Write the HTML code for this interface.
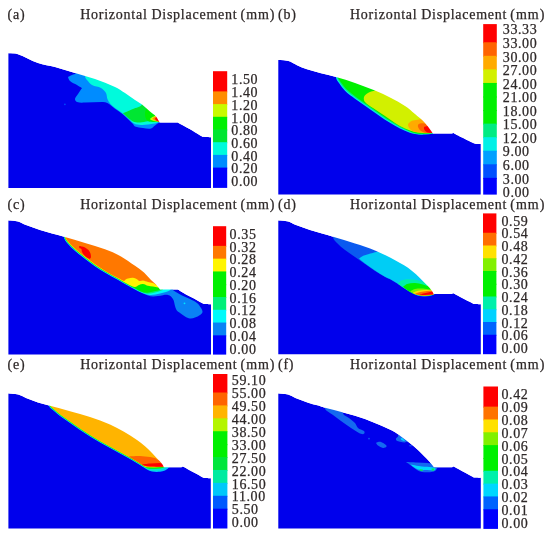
<!DOCTYPE html>
<html><head><meta charset="utf-8"><title>Horizontal Displacement</title>
<style>
html,body{margin:0;padding:0;background:#fff;}
svg{display:block;}
text{font-family:"Liberation Serif","DejaVu Serif",serif;fill:#2e2828;stroke:#2e2828;stroke-width:0.25px;}
.tt{font-size:14px;letter-spacing:0.75px;}
.lb{font-size:14px;letter-spacing:0.6px;}
</style></head><body>
<svg width="550" height="537" viewBox="0 0 550 537">
<rect width="550" height="537" fill="#fff"/>

<path d="M8.4,53.2 C8.4,53.2 14.5,53.1 17.3,54.0 C24.4,56.4 30.9,60.5 38.0,63.0 C43.5,64.9 49.4,65.5 55.0,67.0 C61.7,68.8 68.3,71.0 75.0,73.0 C81.7,75.0 88.4,76.7 95.0,79.0 C101.8,81.4 108.5,84.0 115.0,87.0 C118.5,88.6 121.7,90.9 125.0,93.0 C128.4,95.2 131.6,97.7 135.0,100.0 C137.3,101.6 139.8,102.8 142.0,104.5 C144.8,106.7 147.3,109.2 150.0,111.5 C152.0,113.2 154.3,114.5 156.0,116.5 C157.5,118.3 159.6,122.5 159.6,122.5 C159.6,122.5 177.8,122.5 177.8,122.5 C177.8,122.5 185.1,126.5 188.7,128.6 C193.2,131.2 202.2,136.7 202.2,136.7 C202.2,136.7 211.0,137.2 211.0,137.2 C211.0,137.2 211.0,187.9 211.0,187.9 C211.0,187.9 8.4,187.9 8.4,187.9 C8.4,187.9 8.4,53.2 8.4,53.2Z" fill="#0000ec"/>
<path d="M68.0,77.0 C68.0,77.0 70.7,75.7 72.0,75.0 C73.3,74.3 75.6,74.4 76.0,73.0 C77.1,68.8 76.0,60.0 76.0,60.0 C76.0,60.0 165.0,60.0 165.0,60.0 C165.0,60.0 165.0,121.0 165.0,121.0 C165.0,121.0 161.2,121.8 159.5,122.6 C157.9,123.3 156.5,124.5 155.0,125.5 C153.6,126.5 152.6,128.2 151.0,128.5 C148.4,129.0 145.7,128.3 143.0,128.0 C140.3,127.7 137.5,127.5 135.0,126.5 C134.0,126.1 133.8,124.8 133.0,124.0 C129.7,120.7 126.5,117.5 123.0,114.5 C120.5,112.4 117.6,110.7 115.0,108.8 C112.4,106.9 110.2,104.6 107.4,103.0 C106.1,102.3 104.5,102.0 103.0,102.0 C97.0,101.9 91.0,102.6 85.0,102.6 C82.3,102.6 79.5,102.9 77.0,102.0 C75.9,101.6 74.9,100.2 75.0,99.0 C75.2,97.1 77.0,95.6 78.0,94.0 C79.3,92.0 82.0,88.0 82.0,88.0 C82.0,88.0 78.7,86.0 77.0,85.0 C74.7,83.6 72.0,82.8 70.0,81.0 C68.9,80.0 68.0,77.0 68.0,77.0Z" fill="#008cff"/>
<path d="M85.0,76.2 C84.5,70.8 85.0,60.0 85.0,60.0 C85.0,60.0 160.0,60.0 160.0,60.0 C160.0,60.0 160.0,122.0 160.0,122.0 C160.0,122.0 159.3,121.9 159.0,122.0 C157.6,122.4 156.4,123.2 155.0,123.5 C152.7,124.0 150.3,124.2 148.0,124.5 C145.7,124.7 143.3,125.2 141.0,125.0 C138.6,124.8 136.2,124.5 134.0,123.5 C132.4,122.8 131.3,121.2 130.0,120.0 C127.7,117.9 125.4,115.7 123.0,113.8 C120.4,111.7 117.6,110.0 115.0,108.0 C113.2,106.6 111.4,105.2 110.0,103.5 C108.9,102.2 108.0,100.6 107.4,99.0 C106.7,97.1 107.0,94.8 106.0,93.0 C104.8,91.0 103.0,89.2 101.0,88.0 C98.3,86.4 94.7,86.6 92.0,85.0 C90.0,83.8 88.5,81.8 87.0,80.0 C86.1,78.9 85.1,77.6 85.0,76.2Z" fill="#00fadc"/>
<path d="M123.0,113.2 C123.0,113.2 129.7,110.5 133.0,109.0 C136.0,107.6 140.2,107.3 142.0,104.5 C143.7,101.8 142.0,95.0 142.0,95.0 C142.0,95.0 160.0,95.0 160.0,95.0 C160.0,95.0 160.0,122.0 160.0,122.0 C160.0,122.0 159.3,121.8 159.0,121.8 C155.3,121.6 151.7,121.1 148.0,121.2 C145.3,121.3 142.7,122.4 140.0,122.5 C137.6,122.5 135.1,122.6 133.0,121.5 C129.2,119.4 123.0,113.2 123.0,113.2Z" fill="#00e632"/>
<path d="M146.0,108.0 C145.8,110.4 144.6,112.7 145.0,115.0 C145.3,117.2 146.0,120.0 148.0,121.0 C151.3,122.6 155.3,121.5 159.0,121.8 C159.3,121.8 160.0,122.0 160.0,122.0 C160.0,122.0 160.0,100.0 160.0,100.0 C160.0,100.0 146.0,100.0 146.0,100.0 C146.0,100.0 146.2,105.3 146.0,108.0Z" fill="#00f000"/>
<path d="M150.0,118.8 C150.0,118.8 151.3,117.6 152.0,117.2 C152.9,116.7 155.0,116.0 155.0,116.0 C155.0,116.0 155.0,110.0 155.0,110.0 C155.0,110.0 160.0,110.0 160.0,110.0 C160.0,110.0 160.0,122.0 160.0,122.0 C160.0,122.0 159.7,121.8 159.5,121.8 C157.7,121.5 155.8,121.4 154.0,121.0 C153.0,120.8 151.9,120.5 151.0,120.0 C150.5,119.7 150.0,118.8 150.0,118.8Z" fill="#c8fa00"/>
<path d="M152.5,118.8 C152.5,118.8 153.8,117.5 154.5,117.0 C154.9,116.7 156.0,116.5 156.0,116.5 C156.0,116.5 156.0,112.0 156.0,112.0 C156.0,112.0 160.0,112.0 160.0,112.0 C160.0,112.0 160.0,122.0 160.0,122.0 C160.0,122.0 159.6,121.7 159.3,121.6 C157.9,121.2 156.4,121.1 155.0,120.5 C154.1,120.1 152.5,118.8 152.5,118.8Z" fill="#ff8c00"/>
<path d="M155.0,118.5 C155.0,118.5 155.9,117.4 156.3,116.9 C156.5,116.6 156.6,116.1 157.0,116.0 C158.0,115.8 160.0,116.0 160.0,116.0 C160.0,116.0 160.0,122.0 160.0,122.0 C160.0,122.0 159.7,121.9 159.5,121.8 C158.3,121.3 157.0,121.1 156.0,120.3 C155.4,119.9 155.0,118.5 155.0,118.5Z" fill="#ff0000"/>
<circle cx="64.9" cy="104.4" r="0.8" fill="#0050ff"/>
<path d="M8.4,53.2 C8.4,53.2 14.5,53.1 17.3,54.0 C24.4,56.4 30.9,60.5 38.0,63.0 C43.5,64.9 49.4,65.5 55.0,67.0 C61.7,68.8 68.3,71.0 75.0,73.0 C81.7,75.0 88.4,76.7 95.0,79.0 C101.8,81.4 108.5,84.0 115.0,87.0 C118.5,88.6 121.7,90.9 125.0,93.0 C128.4,95.2 131.6,97.7 135.0,100.0 C137.3,101.6 139.8,102.8 142.0,104.5 C144.8,106.7 147.3,109.2 150.0,111.5 C152.0,113.2 154.3,114.5 156.0,116.5 C157.5,118.3 159.6,122.5 159.6,122.5 C159.6,122.5 177.8,122.5 177.8,122.5 C177.8,122.5 185.1,126.5 188.7,128.6 C193.2,131.2 202.2,136.7 202.2,136.7 C202.2,136.7 211.0,137.2 211.0,137.2 C211.0,137.2 211.0,47.2 211.0,47.2 C211.0,47.2 8.4,47.2 8.4,47.2 C8.4,47.2 8.4,53.2 8.4,53.2Z" fill="#fff"/>
<rect x="213.0" y="71.20" width="14.2" height="21.20" fill="#ff0000"/>
<rect x="213.0" y="91.40" width="14.2" height="13.70" fill="#ff8c00"/>
<rect x="213.0" y="104.10" width="14.2" height="13.70" fill="#c8fa00"/>
<rect x="213.0" y="116.80" width="14.2" height="13.70" fill="#00f000"/>
<rect x="213.0" y="129.50" width="14.2" height="13.70" fill="#00e632"/>
<rect x="213.0" y="142.20" width="14.2" height="13.70" fill="#00fadc"/>
<rect x="213.0" y="154.90" width="14.2" height="13.70" fill="#008cff"/>
<rect x="213.0" y="167.60" width="14.2" height="20.30" fill="#0000fe"/>
<text class="lb" x="231.3" y="84.40">1.50</text>
<text class="lb" x="231.3" y="97.10">1.40</text>
<text class="lb" x="231.3" y="109.80">1.20</text>
<text class="lb" x="231.3" y="122.50">1.00</text>
<text class="lb" x="231.3" y="135.20">0.80</text>
<text class="lb" x="231.3" y="147.90">0.60</text>
<text class="lb" x="231.3" y="160.60">0.40</text>
<text class="lb" x="231.3" y="173.30">0.20</text>
<text class="lb" x="231.3" y="186.00">0.00</text>
<path d="M278.3,59.9 C278.3,59.9 285.2,60.1 288.5,61.0 C291.5,61.9 294.1,63.9 297.0,65.2 C300.3,66.7 303.6,68.1 307.0,69.2 C311.6,70.7 316.3,71.9 321.0,73.2 C326.0,74.5 331.0,75.6 336.0,77.0 C342.4,78.8 348.7,80.8 355.0,83.0 C361.7,85.3 368.4,87.9 375.0,90.6 C380.4,92.9 385.8,95.3 391.0,98.0 C395.8,100.5 400.5,103.0 405.0,106.0 C408.6,108.4 411.7,111.2 415.0,114.0 C418.4,116.9 422.0,119.7 425.0,123.0 C428.0,126.3 433.0,133.6 433.0,133.6 C433.0,133.6 451.8,133.6 451.8,133.6 C451.8,133.6 453.3,132.9 453.3,132.9 C453.3,132.9 467.8,140.6 475.4,143.7 C477.0,144.4 480.7,143.9 480.7,143.9 C480.7,143.9 480.7,194.6 480.7,194.6 C480.7,194.6 278.3,194.6 278.3,194.6 C278.3,194.6 278.3,59.9 278.3,59.9Z" fill="#0000ec"/>
<path d="M336.0,77.4 C336.3,79.5 337.8,81.2 339.0,83.0 C340.8,85.7 342.7,88.4 345.0,90.7 C348.0,93.7 351.6,96.1 355.0,98.7 C358.3,101.1 361.7,103.4 365.0,105.7 C368.3,108.0 371.7,110.4 375.0,112.7 C378.3,115.0 381.6,117.5 385.0,119.7 C388.3,121.8 391.6,123.8 395.0,125.7 C398.3,127.5 401.6,129.3 405.0,130.7 C408.2,132.1 411.5,133.4 415.0,134.1 C418.3,134.7 421.7,134.7 425.0,134.6 C427.7,134.5 430.4,134.0 433.0,133.4 C435.4,132.8 440.0,131.0 440.0,131.0 C440.0,131.0 440.0,60.0 440.0,60.0 C440.0,60.0 336.0,60.0 336.0,60.0 C336.0,60.0 335.2,71.6 336.0,77.4Z" fill="#00f0e6"/>
<path d="M337.0,77.4 C337.4,79.4 338.8,81.1 340.0,82.8 C341.8,85.4 343.7,88.1 346.0,90.3 C349.1,93.3 352.6,95.7 356.0,98.3 C359.3,100.7 362.7,103.0 366.0,105.3 C369.3,107.6 372.7,110.0 376.0,112.3 C379.3,114.6 382.6,117.1 386.0,119.3 C389.3,121.4 392.6,123.4 396.0,125.3 C399.3,127.1 402.6,128.9 406.0,130.3 C409.2,131.7 412.5,133.0 416.0,133.7 C418.9,134.3 422.0,134.2 425.0,134.1 C427.7,134.0 430.4,133.7 433.0,133.2 C435.4,132.7 440.0,131.0 440.0,131.0 C440.0,131.0 440.0,60.0 440.0,60.0 C440.0,60.0 336.0,60.0 336.0,60.0 C336.0,60.0 336.0,71.7 337.0,77.4Z" fill="#00eb82"/>
<path d="M338.0,77.6 C338.4,79.5 339.9,81.0 341.0,82.5 C342.9,85.0 344.7,87.5 347.0,89.7 C350.1,92.6 353.6,95.1 357.0,97.7 C360.3,100.1 363.7,102.4 367.0,104.7 C370.3,107.0 373.7,109.4 377.0,111.7 C380.3,114.0 383.6,116.5 387.0,118.7 C390.3,120.8 393.6,122.8 397.0,124.7 C400.3,126.5 403.6,128.4 407.0,129.9 C409.9,131.2 412.9,132.5 416.0,133.2 C418.9,133.8 422.0,133.7 425.0,133.7 C427.7,133.7 430.4,133.6 433.0,133.1 C435.4,132.7 440.0,131.0 440.0,131.0 C440.0,131.0 440.0,60.0 440.0,60.0 C440.0,60.0 336.0,60.0 336.0,60.0 C336.0,60.0 336.7,71.8 338.0,77.6Z" fill="#00f000"/>
<path d="M375.0,90.6 C375.0,90.6 370.1,91.8 368.0,93.0 C366.4,93.9 364.6,95.2 364.0,97.0 C363.5,98.6 363.9,100.7 365.0,102.0 C367.1,104.6 370.3,106.1 373.0,108.0 C376.9,110.8 381.0,113.3 385.0,116.0 C388.4,118.3 391.6,120.8 395.0,123.0 C398.2,125.0 401.5,127.0 405.0,128.6 C408.2,130.0 411.6,131.2 415.0,132.0 C418.3,132.8 421.6,133.0 425.0,133.2 C427.7,133.3 430.4,133.4 433.0,133.0 C435.4,132.6 440.0,131.0 440.0,131.0 C440.0,131.0 440.0,60.0 440.0,60.0 C440.0,60.0 375.0,60.0 375.0,60.0 C375.0,60.0 375.0,90.6 375.0,90.6Z" fill="#d2f000"/>
<path d="M408.0,125.0 C407.9,123.8 409.1,122.8 410.0,122.0 C410.8,121.3 411.9,120.9 413.0,120.6 C415.0,120.0 417.0,119.5 419.0,119.4 C426.0,119.0 440.0,119.0 440.0,119.0 C440.0,119.0 440.0,133.0 440.0,133.0 C440.0,133.0 434.7,133.0 432.0,133.0 C429.7,133.0 427.3,133.2 425.0,133.0 C421.7,132.8 418.3,132.5 415.0,131.8 C413.6,131.5 412.0,131.0 411.0,130.0 C409.6,128.6 408.2,126.9 408.0,125.0Z" fill="#ffaa00"/>
<path d="M418.0,125.0 C418.3,124.2 419.2,123.9 420.0,123.6 C420.9,123.3 422.0,123.2 423.0,123.2 C424.0,123.2 425.0,123.8 426.0,123.8 C430.7,123.7 440.0,123.0 440.0,123.0 C440.0,123.0 440.0,133.0 440.0,133.0 C440.0,133.0 434.7,133.0 432.0,133.0 C429.7,133.0 427.3,133.2 425.0,132.8 C423.6,132.5 422.2,131.9 421.0,131.0 C420.0,130.2 419.1,129.2 418.5,128.0 C418.0,127.1 417.7,126.0 418.0,125.0Z" fill="#ff6400"/>
<path d="M424.0,127.5 C424.2,126.9 424.9,126.7 425.5,126.5 C426.1,126.2 426.8,126.0 427.5,126.0 C431.7,125.9 440.0,126.0 440.0,126.0 C440.0,126.0 440.0,133.0 440.0,133.0 C440.0,133.0 434.7,133.2 432.0,133.0 C430.3,132.9 428.6,132.8 427.0,132.2 C426.0,131.8 425.1,130.9 424.5,130.0 C424.0,129.3 423.8,128.3 424.0,127.5Z" fill="#ff0000"/>

<path d="M278.3,59.9 C278.3,59.9 285.2,60.1 288.5,61.0 C291.5,61.9 294.1,63.9 297.0,65.2 C300.3,66.7 303.6,68.1 307.0,69.2 C311.6,70.7 316.3,71.9 321.0,73.2 C326.0,74.5 331.0,75.6 336.0,77.0 C342.4,78.8 348.7,80.8 355.0,83.0 C361.7,85.3 368.4,87.9 375.0,90.6 C380.4,92.9 385.8,95.3 391.0,98.0 C395.8,100.5 400.5,103.0 405.0,106.0 C408.6,108.4 411.7,111.2 415.0,114.0 C418.4,116.9 422.0,119.7 425.0,123.0 C428.0,126.3 433.0,133.6 433.0,133.6 C433.0,133.6 451.8,133.6 451.8,133.6 C451.8,133.6 453.3,132.9 453.3,132.9 C453.3,132.9 467.8,140.6 475.4,143.7 C477.0,144.4 480.7,143.9 480.7,143.9 C480.7,143.9 480.7,53.9 480.7,53.9 C480.7,53.9 278.3,53.9 278.3,53.9 C278.3,53.9 278.3,59.9 278.3,59.9Z" fill="#fff"/>
<rect x="483.2" y="24.10" width="13.6" height="19.16" fill="#ff0000"/>
<rect x="483.2" y="42.26" width="13.6" height="14.56" fill="#ff6400"/>
<rect x="483.2" y="55.82" width="13.6" height="14.56" fill="#ffaa00"/>
<rect x="483.2" y="69.38" width="13.6" height="14.56" fill="#d2f000"/>
<rect x="483.2" y="82.94" width="13.6" height="14.56" fill="#00f000"/>
<rect x="483.2" y="96.50" width="13.6" height="14.56" fill="#00f000"/>
<rect x="483.2" y="110.06" width="13.6" height="14.56" fill="#00f000"/>
<rect x="483.2" y="123.62" width="13.6" height="14.56" fill="#00eb82"/>
<rect x="483.2" y="137.18" width="13.6" height="14.56" fill="#00f0e6"/>
<rect x="483.2" y="150.74" width="13.6" height="14.56" fill="#00a0ff"/>
<rect x="483.2" y="164.30" width="13.6" height="14.56" fill="#0050ff"/>
<rect x="483.2" y="177.86" width="13.6" height="16.74" fill="#0000fe"/>
<text class="lb" x="502.8" y="34.40">33.33</text>
<text class="lb" x="502.8" y="47.96">33.00</text>
<text class="lb" x="502.8" y="61.52">30.00</text>
<text class="lb" x="502.8" y="75.08">27.00</text>
<text class="lb" x="502.8" y="88.64">24.00</text>
<text class="lb" x="502.8" y="102.20">21.00</text>
<text class="lb" x="502.8" y="115.76">18.00</text>
<text class="lb" x="502.8" y="129.32">15.00</text>
<text class="lb" x="502.8" y="142.88">12.00</text>
<text class="lb" x="502.8" y="156.44">9.00</text>
<text class="lb" x="502.8" y="170.00">6.00</text>
<text class="lb" x="502.8" y="183.56">3.00</text>
<text class="lb" x="502.8" y="197.12">0.00</text>
<path d="M8.4,220.4 C8.4,220.4 14.9,220.6 18.0,221.4 C20.8,222.1 23.3,223.9 26.0,225.0 C30.6,226.8 35.3,228.4 40.0,230.0 C44.0,231.3 48.0,232.5 52.0,233.6 C56.0,234.7 60.0,235.7 64.0,236.8 C71.0,238.8 78.0,240.9 85.0,243.0 C91.7,245.0 98.4,246.9 105.0,249.3 C110.5,251.3 115.9,253.6 121.0,256.4 C125.9,259.1 130.4,262.6 135.0,265.8 C138.1,268.0 141.2,270.1 144.0,272.6 C146.5,274.9 148.6,277.6 151.0,280.0 C152.6,281.6 154.5,282.9 156.0,284.5 C157.5,286.0 160.0,289.5 160.0,289.5 C160.0,289.5 178.0,289.5 178.0,289.5 C178.0,289.5 183.3,293.0 186.0,294.5 C188.6,296.0 191.4,297.1 194.0,298.5 C196.0,299.6 198.0,300.9 200.0,302.0 C201.3,302.7 204.0,304.0 204.0,304.0 C204.0,304.0 211.0,304.2 211.0,304.2 C211.0,304.2 211.0,354.6 211.0,354.6 C211.0,354.6 8.4,354.6 8.4,354.6 C8.4,354.6 8.4,220.4 8.4,220.4Z" fill="#0000ec"/>
<path d="M64.0,237.6 C64.3,239.6 65.7,241.4 67.0,243.0 C69.4,245.9 72.2,248.5 75.0,251.0 C78.2,253.8 81.6,256.4 85.0,259.0 C88.3,261.6 91.6,264.1 95.0,266.5 C98.2,268.7 101.6,270.8 105.0,272.8 C109.3,275.3 113.7,277.6 118.0,280.0 C121.4,281.9 124.6,283.9 128.0,285.8 C131.3,287.7 134.6,289.6 138.0,291.3 C141.3,292.9 144.6,294.3 148.0,295.5 C149.6,296.1 151.3,296.4 153.0,296.5 C154.7,296.6 156.3,296.2 158.0,296.0 C159.7,295.8 161.3,295.4 163.0,295.2 C164.7,295.0 166.4,294.7 168.0,295.0 C169.1,295.2 170.2,295.7 171.0,296.5 C172.1,297.5 172.9,298.7 173.5,300.0 C174.3,301.9 174.4,304.0 175.0,306.0 C175.4,307.4 175.7,308.8 176.5,310.0 C177.4,311.3 178.8,312.1 180.0,313.0 C181.6,314.2 183.2,315.5 185.0,316.5 C186.6,317.4 188.2,318.3 190.0,318.5 C191.7,318.7 193.4,318.1 195.0,317.5 C196.8,316.9 198.5,316.1 200.0,315.0 C201.0,314.2 202.3,313.3 202.5,312.0 C202.7,310.6 201.7,309.2 201.0,308.0 C199.9,306.2 198.7,304.4 197.0,303.0 C194.9,301.3 192.4,300.2 190.0,299.0 C187.4,297.7 184.6,296.8 182.0,295.5 C179.6,294.3 177.2,293.0 175.0,291.5 C174.2,291.0 173.0,290.4 173.0,289.5 C172.4,268.0 173.0,225.0 173.0,225.0 C173.0,225.0 64.0,225.0 64.0,225.0 C64.0,225.0 63.3,233.5 64.0,237.6Z" fill="#0a82f5"/>
<path d="M64.2,237.3 C64.6,239.4 65.9,241.1 67.2,242.7 C69.6,245.6 72.4,248.2 75.2,250.7 C78.4,253.6 81.8,256.1 85.2,258.7 C88.5,261.3 91.8,263.9 95.2,266.2 C98.5,268.5 101.8,270.5 105.2,272.5 C109.5,275.0 113.9,277.3 118.2,279.7 C121.6,281.6 124.9,283.6 128.2,285.5 C131.6,287.4 134.9,289.3 138.3,291.0 C140.8,292.2 143.3,293.4 146.0,294.2 C147.6,294.7 149.3,295.1 151.0,295.0 C154.0,294.8 157.0,294.1 160.0,293.5 C162.0,293.1 164.0,292.6 166.0,292.0 C167.4,291.5 168.7,290.9 170.0,290.2 C170.3,290.0 170.5,289.7 170.5,289.4 C170.7,267.9 170.5,225.0 170.5,225.0 C170.5,225.0 64.2,225.0 64.2,225.0 C64.2,225.0 63.5,233.3 64.2,237.3Z" fill="#00fafa"/>
<path d="M64.4,237.1 C64.8,239.1 66.1,240.9 67.4,242.5 C69.8,245.4 72.6,247.9 75.4,250.5 C78.6,253.3 82.1,255.8 85.4,258.5 C88.7,261.0 92.0,263.6 95.4,266.0 C98.7,268.2 102.0,270.3 105.4,272.3 C109.7,274.8 114.1,277.0 118.4,279.5 C121.8,281.4 125.1,283.4 128.4,285.3 C131.8,287.1 135.1,289.1 138.6,290.7 C141.3,291.9 144.1,293.1 147.0,293.7 C148.6,294.0 150.4,293.6 152.0,293.3 C154.0,292.9 156.0,292.4 158.0,291.8 C159.4,291.4 160.7,290.9 162.0,290.3 C162.4,290.1 163.0,289.8 163.0,289.4 C163.3,267.9 163.0,225.0 163.0,225.0 C163.0,225.0 64.5,225.0 64.5,225.0 C64.5,225.0 63.8,233.1 64.4,237.1Z" fill="#00f078"/>
<path d="M64.6,236.8 C65.0,238.9 66.3,240.6 67.6,242.2 C70.0,245.1 72.8,247.7 75.6,250.2 C78.8,253.1 82.2,255.6 85.6,258.2 C88.9,260.8 92.2,263.4 95.6,265.7 C98.9,268.0 102.2,270.0 105.6,272.0 C109.9,274.5 114.3,276.8 118.6,279.2 C122.0,281.1 125.2,283.2 128.6,285.0 C130.7,286.2 132.9,287.2 135.0,288.3 C137.0,289.3 138.9,290.6 141.0,291.4 C142.9,292.1 144.9,292.7 147.0,292.8 C148.4,292.9 149.7,292.3 151.0,292.0 C153.3,291.5 155.7,291.2 158.0,290.6 C158.7,290.4 160.0,290.3 160.0,289.6 C160.7,268.1 160.0,225.0 160.0,225.0 C160.0,225.0 64.7,225.0 64.7,225.0 C64.7,225.0 64.0,232.9 64.6,236.8Z" fill="#00f000"/>
<path d="M64.9,236.5 C65.2,238.5 66.6,240.3 67.9,241.9 C70.3,244.8 73.0,247.4 75.9,249.9 C79.1,252.7 82.5,255.3 85.9,257.9 C89.2,260.5 92.4,263.0 95.9,265.4 C99.1,267.6 102.5,269.7 105.9,271.7 C110.1,274.2 114.6,276.5 118.9,278.9 C122.2,280.8 125.5,282.8 128.9,284.7 C129.4,285.0 129.9,285.4 130.5,285.6 C132.0,286.2 133.4,287.1 135.0,287.0 C136.5,286.9 137.6,285.5 139.0,285.0 C140.3,284.5 141.6,283.9 143.0,284.0 C144.8,284.2 146.3,285.4 148.0,285.8 C149.6,286.2 151.3,286.2 153.0,286.5 C154.7,286.8 156.3,287.1 158.0,287.5 C158.7,287.6 160.0,288.0 160.0,288.0 C160.0,288.0 160.0,225.0 160.0,225.0 C160.0,225.0 65.0,225.0 65.0,225.0 C65.0,225.0 64.2,232.7 64.9,236.5Z" fill="#fff500"/>
<path d="M65.1,236.2 C65.5,238.2 66.8,240.0 68.1,241.6 C70.5,244.5 73.3,247.1 76.1,249.6 C79.3,252.4 82.7,255.0 86.1,257.6 C89.4,260.1 92.7,262.7 96.1,265.1 C99.4,267.3 102.7,269.4 106.1,271.4 C110.4,273.9 114.8,276.2 119.1,278.6 C120.7,279.5 124.0,281.2 124.0,281.2 C124.0,281.2 125.2,279.7 126.0,279.2 C126.6,278.8 127.3,278.5 128.0,278.4 C129.6,278.1 131.3,277.7 133.0,277.8 C134.4,277.9 135.7,278.6 137.0,279.2 C137.9,279.7 138.5,280.8 139.5,281.0 C140.7,281.2 141.8,280.4 143.0,280.5 C144.7,280.7 146.3,281.6 148.0,282.0 C149.6,282.4 151.4,282.4 153.0,283.0 C154.3,283.4 155.3,284.5 156.5,285.0 C157.6,285.5 160.0,286.0 160.0,286.0 C160.0,286.0 160.0,225.0 160.0,225.0 C160.0,225.0 65.3,225.0 65.3,225.0 C65.3,225.0 64.5,232.5 65.1,236.2Z" fill="#ff7800"/>
<path d="M79.0,246.8 C79.0,246.8 79.6,246.1 80.0,246.1 C80.5,246.0 81.0,246.4 81.5,246.5 C82.0,246.6 82.5,246.6 83.0,246.7 C83.7,246.9 84.4,247.0 85.0,247.4 C86.2,248.1 87.5,248.9 88.5,250.0 C89.4,251.0 90.1,252.2 90.5,253.5 C90.9,254.8 91.1,256.2 90.9,257.5 C90.8,258.1 89.6,258.9 89.6,258.9 C89.6,258.9 86.3,257.2 85.0,256.0 C83.8,254.9 82.8,253.5 82.0,252.0 C81.5,251.1 81.9,249.9 81.4,249.0 C81.0,248.4 80.1,248.6 79.6,248.2 C79.2,247.9 79.0,246.8 79.0,246.8Z" fill="#ff0000"/>
<circle cx="184.5" cy="303.3" r="0.9" fill="#00e6ff"/>
<path d="M8.4,220.4 C8.4,220.4 14.9,220.6 18.0,221.4 C20.8,222.1 23.3,223.9 26.0,225.0 C30.6,226.8 35.3,228.4 40.0,230.0 C44.0,231.3 48.0,232.5 52.0,233.6 C56.0,234.7 60.0,235.7 64.0,236.8 C71.0,238.8 78.0,240.9 85.0,243.0 C91.7,245.0 98.4,246.9 105.0,249.3 C110.5,251.3 115.9,253.6 121.0,256.4 C125.9,259.1 130.4,262.6 135.0,265.8 C138.1,268.0 141.2,270.1 144.0,272.6 C146.5,274.9 148.6,277.6 151.0,280.0 C152.6,281.6 154.5,282.9 156.0,284.5 C157.5,286.0 160.0,289.5 160.0,289.5 C160.0,289.5 178.0,289.5 178.0,289.5 C178.0,289.5 183.3,293.0 186.0,294.5 C188.6,296.0 191.4,297.1 194.0,298.5 C196.0,299.6 198.0,300.9 200.0,302.0 C201.3,302.7 204.0,304.0 204.0,304.0 C204.0,304.0 211.0,304.2 211.0,304.2 C211.0,304.2 211.0,214.4 211.0,214.4 C211.0,214.4 8.4,214.4 8.4,214.4 C8.4,214.4 8.4,220.4 8.4,220.4Z" fill="#fff"/>
<rect x="213.0" y="226.20" width="13.2" height="20.68" fill="#ff0000"/>
<rect x="213.0" y="245.88" width="13.2" height="13.78" fill="#ff7800"/>
<rect x="213.0" y="258.66" width="13.2" height="13.78" fill="#fff500"/>
<rect x="213.0" y="271.44" width="13.2" height="13.78" fill="#00f000"/>
<rect x="213.0" y="284.22" width="13.2" height="13.78" fill="#00f000"/>
<rect x="213.0" y="297.00" width="13.2" height="13.78" fill="#00f078"/>
<rect x="213.0" y="309.78" width="13.2" height="13.78" fill="#00fafa"/>
<rect x="213.0" y="322.56" width="13.2" height="13.78" fill="#0a82f5"/>
<rect x="213.0" y="335.34" width="13.2" height="19.26" fill="#0000fe"/>
<text class="lb" x="229.6" y="238.80">0.35</text>
<text class="lb" x="229.6" y="251.58">0.32</text>
<text class="lb" x="229.6" y="264.36">0.28</text>
<text class="lb" x="229.6" y="277.14">0.24</text>
<text class="lb" x="229.6" y="289.92">0.20</text>
<text class="lb" x="229.6" y="302.70">0.16</text>
<text class="lb" x="229.6" y="315.48">0.12</text>
<text class="lb" x="229.6" y="328.26">0.08</text>
<text class="lb" x="229.6" y="341.04">0.04</text>
<text class="lb" x="229.6" y="353.82">0.00</text>
<path d="M278.3,220.4 C278.3,220.4 285.0,220.6 288.2,221.4 C291.0,222.1 293.3,223.9 296.0,225.0 C300.6,226.8 305.3,228.4 310.0,230.0 C314.0,231.3 318.0,232.4 322.0,233.6 C325.7,234.7 329.3,235.7 333.0,236.8 C340.3,239.0 347.7,241.2 355.0,243.6 C361.7,245.8 368.5,247.8 375.0,250.4 C380.5,252.6 385.7,255.3 391.0,258.0 C394.1,259.5 397.0,261.3 400.0,263.0 C402.7,264.6 405.5,266.0 408.0,267.8 C410.8,269.8 413.4,272.0 416.0,274.3 C418.5,276.5 420.7,279.0 423.0,281.3 C425.0,283.3 427.1,285.1 429.0,287.2 C430.1,288.4 431.1,289.7 432.0,291.0 C432.6,291.9 433.6,293.9 433.6,293.9 C433.6,293.9 451.8,293.9 451.8,293.9 C451.8,293.9 453.3,293.2 453.3,293.2 C453.3,293.2 474.0,304.0 474.0,304.0 C474.0,304.0 480.8,304.2 480.8,304.2 C480.8,304.2 480.8,354.2 480.8,354.2 C480.8,354.2 278.3,354.2 278.3,354.2 C278.3,354.2 278.3,220.4 278.3,220.4Z" fill="#0000ec"/>
<path d="M333.0,237.4 C333.5,239.6 335.4,241.3 337.0,243.0 C339.4,245.6 342.2,247.8 345.0,250.0 C348.2,252.5 351.7,254.7 355.0,257.0 C358.3,259.3 361.7,261.7 365.0,264.0 C368.3,266.3 371.6,268.8 375.0,271.0 C378.3,273.1 381.6,275.1 385.0,277.0 C386.6,277.9 388.4,278.4 390.0,279.3 C393.4,281.2 396.7,283.3 400.0,285.4 C403.4,287.5 406.6,289.8 410.0,291.8 C412.3,293.1 414.5,294.5 417.0,295.3 C419.6,296.1 422.3,296.5 425.0,296.5 C427.4,296.5 429.7,296.1 432.0,295.5 C432.8,295.3 433.2,294.3 434.0,294.2 C436.0,293.8 440.0,294.0 440.0,294.0 C440.0,294.0 440.0,225.0 440.0,225.0 C440.0,225.0 333.0,225.0 333.0,225.0 C333.0,225.0 332.1,233.4 333.0,237.4Z" fill="#0a5af0"/>
<path d="M359.0,258.6 C359.0,258.6 362.2,256.4 364.0,255.6 C365.6,254.9 367.3,254.5 369.0,254.0 C372.2,253.1 378.6,251.6 378.6,251.6 C378.6,251.6 379.0,225.0 379.0,225.0 C379.0,225.0 440.0,225.0 440.0,225.0 C440.0,225.0 440.0,294.0 440.0,294.0 C440.0,294.0 436.0,293.9 434.0,294.2 C433.2,294.3 432.7,295.1 432.0,295.3 C429.7,295.8 427.4,296.2 425.0,296.2 C422.3,296.2 419.6,296.0 417.0,295.2 C414.5,294.4 412.3,292.9 410.0,291.5 C406.6,289.5 403.4,287.1 400.0,285.0 C396.7,282.9 393.4,280.9 390.0,279.0 C388.4,278.1 386.6,277.6 385.0,276.7 C381.6,274.8 378.3,272.7 375.0,270.6 C371.6,268.4 368.3,266.0 365.0,263.6 C362.9,262.0 359.0,258.6 359.0,258.6Z" fill="#00cdf5"/>
<path d="M398.0,283.8 C398.0,283.8 399.7,281.4 401.0,280.8 C402.8,279.9 404.9,279.3 407.0,279.2 C409.7,279.0 412.3,279.5 415.0,279.8 C416.7,280.0 418.4,280.4 420.0,280.8 C421.2,281.1 423.5,282.0 423.5,282.0 C423.5,282.0 424.0,270.0 424.0,270.0 C424.0,270.0 440.0,270.0 440.0,270.0 C440.0,270.0 440.0,294.0 440.0,294.0 C440.0,294.0 436.0,293.8 434.0,294.1 C433.3,294.2 432.7,294.9 432.0,295.1 C429.7,295.6 427.4,296.0 425.0,296.0 C422.3,296.0 419.6,295.7 417.0,295.0 C414.5,294.3 412.2,293.2 410.0,292.0 C407.6,290.7 405.3,289.2 403.0,287.6 C401.3,286.4 398.0,283.8 398.0,283.8Z" fill="#00f0aa"/>
<path d="M403.0,286.8 C403.0,286.8 405.4,284.4 407.0,283.9 C409.6,283.1 412.3,282.8 415.0,282.9 C417.7,283.0 420.4,283.7 423.0,284.4 C424.5,284.8 427.5,286.0 427.5,286.0 C427.5,286.0 428.0,275.0 428.0,275.0 C428.0,275.0 440.0,275.0 440.0,275.0 C440.0,275.0 440.0,294.0 440.0,294.0 C440.0,294.0 436.0,293.8 434.0,294.0 C433.3,294.1 432.7,294.9 432.0,295.0 C429.7,295.5 427.3,295.8 425.0,295.8 C422.3,295.8 419.6,295.5 417.0,294.8 C414.5,294.1 412.2,293.1 410.0,291.8 C407.5,290.4 403.0,286.8 403.0,286.8Z" fill="#00f000"/>
<path d="M410.0,291.5 C410.0,291.5 413.2,289.4 415.0,289.0 C417.6,288.4 420.3,288.4 423.0,288.5 C425.4,288.6 427.6,289.6 430.0,289.5 C430.6,289.5 430.4,288.1 431.0,288.0 C434.0,287.6 440.0,288.0 440.0,288.0 C440.0,288.0 440.0,294.0 440.0,294.0 C440.0,294.0 436.0,293.8 434.0,294.0 C433.3,294.1 432.7,294.8 432.0,294.9 C429.7,295.3 427.3,295.7 425.0,295.7 C422.3,295.7 419.6,295.4 417.0,294.7 C414.5,294.0 410.0,291.5 410.0,291.5Z" fill="#82f000"/>
<path d="M413.0,293.0 C413.0,293.0 416.2,291.2 418.0,290.8 C420.3,290.2 422.7,290.1 425.0,290.0 C427.0,289.9 429.0,290.2 431.0,290.2 C434.0,290.2 440.0,290.0 440.0,290.0 C440.0,290.0 440.0,294.0 440.0,294.0 C440.0,294.0 436.0,293.8 434.0,294.0 C433.3,294.1 432.7,294.7 432.0,294.8 C429.7,295.2 427.3,295.6 425.0,295.6 C422.3,295.6 419.6,295.2 417.0,294.6 C415.6,294.3 413.0,293.0 413.0,293.0Z" fill="#ffe100"/>
<path d="M415.0,293.8 C415.0,293.8 418.3,292.4 420.0,292.0 C422.3,291.5 424.7,291.2 427.0,291.0 C428.5,290.8 430.0,290.8 431.5,290.8 C434.3,290.8 440.0,290.8 440.0,290.8 C440.0,290.8 440.0,294.0 440.0,294.0 C440.0,294.0 436.0,293.8 434.0,294.0 C433.3,294.1 432.7,294.7 432.0,294.8 C429.7,295.2 427.3,295.5 425.0,295.5 C422.7,295.5 420.3,295.3 418.0,294.9 C416.9,294.7 415.0,293.8 415.0,293.8Z" fill="#ff6e00"/>
<path d="M419.0,294.8 C419.0,294.8 421.6,293.8 423.0,293.4 C424.6,293.0 426.3,292.7 428.0,292.4 C429.3,292.2 430.7,291.9 432.0,291.8 C434.7,291.7 440.0,291.8 440.0,291.8 C440.0,291.8 440.0,294.0 440.0,294.0 C440.0,294.0 435.7,293.8 433.5,294.0 C433.0,294.0 432.5,294.5 432.0,294.6 C429.7,294.9 427.3,295.0 425.0,295.0 C423.0,295.0 419.0,294.8 419.0,294.8Z" fill="#ff0000"/>

<path d="M278.3,220.4 C278.3,220.4 285.0,220.6 288.2,221.4 C291.0,222.1 293.3,223.9 296.0,225.0 C300.6,226.8 305.3,228.4 310.0,230.0 C314.0,231.3 318.0,232.4 322.0,233.6 C325.7,234.7 329.3,235.7 333.0,236.8 C340.3,239.0 347.7,241.2 355.0,243.6 C361.7,245.8 368.5,247.8 375.0,250.4 C380.5,252.6 385.7,255.3 391.0,258.0 C394.1,259.5 397.0,261.3 400.0,263.0 C402.7,264.6 405.5,266.0 408.0,267.8 C410.8,269.8 413.4,272.0 416.0,274.3 C418.5,276.5 420.7,279.0 423.0,281.3 C425.0,283.3 427.1,285.1 429.0,287.2 C430.1,288.4 431.1,289.7 432.0,291.0 C432.6,291.9 433.6,293.9 433.6,293.9 C433.6,293.9 451.8,293.9 451.8,293.9 C451.8,293.9 453.3,293.2 453.3,293.2 C453.3,293.2 474.0,304.0 474.0,304.0 C474.0,304.0 480.8,304.2 480.8,304.2 C480.8,304.2 480.8,214.4 480.8,214.4 C480.8,214.4 278.3,214.4 278.3,214.4 C278.3,214.4 278.3,220.4 278.3,220.4Z" fill="#fff"/>
<rect x="483.0" y="213.40" width="13.4" height="20.35" fill="#ff0000"/>
<rect x="483.0" y="232.75" width="13.4" height="13.75" fill="#ff6e00"/>
<rect x="483.0" y="245.50" width="13.4" height="13.75" fill="#ffe100"/>
<rect x="483.0" y="258.25" width="13.4" height="13.75" fill="#82f000"/>
<rect x="483.0" y="271.00" width="13.4" height="13.75" fill="#00f000"/>
<rect x="483.0" y="283.75" width="13.4" height="13.75" fill="#00f000"/>
<rect x="483.0" y="296.50" width="13.4" height="13.75" fill="#00f0aa"/>
<rect x="483.0" y="309.25" width="13.4" height="13.75" fill="#00d2ff"/>
<rect x="483.0" y="322.00" width="13.4" height="13.75" fill="#0064ff"/>
<rect x="483.0" y="334.75" width="13.4" height="19.45" fill="#0000fe"/>
<text class="lb" x="501.5" y="225.70">0.59</text>
<text class="lb" x="501.5" y="238.45">0.54</text>
<text class="lb" x="501.5" y="251.20">0.48</text>
<text class="lb" x="501.5" y="263.95">0.42</text>
<text class="lb" x="501.5" y="276.70">0.36</text>
<text class="lb" x="501.5" y="289.45">0.30</text>
<text class="lb" x="501.5" y="302.20">0.24</text>
<text class="lb" x="501.5" y="314.95">0.18</text>
<text class="lb" x="501.5" y="327.70">0.12</text>
<text class="lb" x="501.5" y="340.45">0.06</text>
<text class="lb" x="501.5" y="353.20">0.00</text>
<path d="M8.4,393.5 C8.4,393.5 15.0,393.8 18.2,394.6 C20.9,395.3 23.4,397.0 26.0,398.0 C30.0,399.6 33.9,401.1 38.0,402.4 C41.6,403.6 45.3,404.4 49.0,405.4 C56.0,407.3 63.0,409.2 70.0,411.2 C76.7,413.1 83.4,414.8 90.0,417.0 C96.8,419.2 103.5,421.6 110.0,424.4 C114.8,426.5 119.4,429.1 124.0,431.7 C128.5,434.3 132.8,437.1 137.0,440.0 C139.8,441.9 142.4,444.1 145.0,446.3 C147.5,448.4 149.7,450.8 152.0,453.1 C154.0,455.2 156.0,457.3 158.0,459.4 C159.4,460.8 160.8,462.2 162.0,463.8 C162.8,464.8 163.8,467.2 163.8,467.2 C163.8,467.2 181.6,467.2 181.6,467.2 C181.6,467.2 183.0,466.5 183.0,466.5 C183.0,466.5 204.0,478.0 204.0,478.0 C204.0,478.0 210.8,478.2 210.8,478.2 C210.8,478.2 210.8,528.6 210.8,528.6 C210.8,528.6 8.4,528.6 8.4,528.6 C8.4,528.6 8.4,393.5 8.4,393.5Z" fill="#0000ec"/>
<path d="M49.0,406.0 C49.7,408.2 52.3,409.4 54.0,411.0 C55.9,412.8 57.9,414.4 60.0,416.0 C63.3,418.4 66.7,420.7 70.0,423.0 C73.3,425.3 76.6,427.7 80.0,430.0 C83.3,432.2 86.6,434.4 90.0,436.5 C93.3,438.6 96.6,440.6 100.0,442.5 C103.3,444.4 106.7,446.2 110.0,448.0 C113.3,449.8 116.7,451.7 120.0,453.5 C123.3,455.3 126.7,457.1 130.0,459.0 C133.4,460.9 136.7,463.0 140.0,465.0 C142.4,466.5 144.6,468.2 147.0,469.5 C148.6,470.4 150.2,471.2 152.0,471.5 C154.6,472.0 157.3,472.0 160.0,471.8 C161.7,471.7 163.4,471.2 165.0,470.5 C166.1,470.0 167.1,469.3 168.0,468.5 C168.4,468.2 168.6,467.6 169.0,467.3 C169.9,466.5 171.9,466.3 172.0,465.0 C173.0,441.7 172.0,395.0 172.0,395.0 C172.0,395.0 49.0,395.0 49.0,395.0 C49.0,395.0 47.9,402.5 49.0,406.0Z" fill="#00c8fa"/>
<path d="M49.3,405.8 C50.1,408.0 52.6,409.2 54.3,410.8 C56.2,412.5 58.2,414.2 60.3,415.8 C63.6,418.2 67.0,420.4 70.3,422.8 C73.6,425.1 76.9,427.5 80.3,429.8 C83.6,432.0 86.9,434.1 90.3,436.2 C93.6,438.3 96.9,440.3 100.3,442.2 C103.6,444.1 107.0,445.9 110.3,447.8 C113.6,449.6 117.0,451.4 120.3,453.2 C123.6,455.1 127.0,456.9 130.3,458.8 C133.7,460.7 137.0,462.7 140.3,464.8 C142.6,466.1 144.6,467.8 147.0,469.0 C148.6,469.8 150.3,470.4 152.0,470.6 C154.3,470.9 156.7,470.9 159.0,470.6 C160.6,470.4 162.1,470.0 163.5,469.3 C164.3,468.9 164.7,467.7 165.5,467.3 C167.6,466.3 172.0,465.0 172.0,465.0 C172.0,465.0 172.0,395.0 172.0,395.0 C172.0,395.0 49.0,395.0 49.0,395.0 C49.0,395.0 48.2,402.4 49.3,405.8Z" fill="#00e6c8"/>
<path d="M49.6,405.6 C50.4,407.8 52.9,409.0 54.6,410.6 C56.5,412.3 58.5,414.0 60.6,415.6 C63.9,418.0 67.3,420.2 70.6,422.6 C73.9,424.9 77.2,427.3 80.6,429.6 C83.9,431.8 87.2,433.9 90.6,436.1 C93.9,438.1 97.2,440.1 100.6,442.1 C103.9,443.9 107.3,445.7 110.6,447.6 C113.9,449.4 117.3,451.2 120.6,453.1 C123.9,454.9 127.3,456.7 130.6,458.6 C134.0,460.5 137.2,462.6 140.6,464.6 C142.8,465.8 144.9,467.3 147.3,468.2 C148.8,468.7 150.4,468.7 152.0,468.7 C154.7,468.7 157.3,468.7 160.0,468.4 C161.4,468.3 162.7,467.8 164.0,467.4 C166.7,466.6 172.0,465.0 172.0,465.0 C172.0,465.0 172.0,395.0 172.0,395.0 C172.0,395.0 49.0,395.0 49.0,395.0 C49.0,395.0 48.4,402.2 49.6,405.6Z" fill="#00f000"/>
<path d="M49.9,405.3 C50.7,407.5 53.2,408.7 54.9,410.3 C56.8,412.1 58.8,413.7 60.9,415.3 C64.2,417.7 67.6,420.0 70.9,422.3 C74.2,424.6 77.5,427.0 80.9,429.3 C84.2,431.5 87.5,433.7 90.9,435.8 C94.2,437.9 97.5,439.9 100.9,441.8 C104.2,443.7 107.6,445.5 110.9,447.3 C114.2,449.1 117.6,451.0 120.9,452.8 C124.2,454.6 127.6,456.4 130.9,458.3 C134.3,460.2 137.6,462.3 140.9,464.3 C142.6,465.3 144.1,467.0 146.0,467.2 C152.0,467.9 158.0,467.6 164.0,467.1 C166.7,466.9 172.0,465.0 172.0,465.0 C172.0,465.0 172.0,395.0 172.0,395.0 C172.0,395.0 49.0,395.0 49.0,395.0 C49.0,395.0 48.7,402.1 49.9,405.3Z" fill="#b4f500"/>
<path d="M50.2,405.1 C51.1,407.2 53.5,408.5 55.2,410.1 C57.1,411.8 59.1,413.5 61.2,415.1 C64.5,417.5 67.9,419.7 71.2,422.1 C74.5,424.4 77.8,426.8 81.2,429.1 C84.5,431.3 87.8,433.4 91.2,435.6 C94.5,437.6 97.8,439.6 101.2,441.6 C104.5,443.4 107.9,445.2 111.2,447.1 C114.5,448.9 117.9,450.7 121.2,452.6 C124.5,454.4 127.9,456.2 131.2,458.1 C134.6,460.0 137.8,462.1 141.2,464.1 C142.8,465.0 144.2,466.5 146.0,466.7 C152.0,467.4 158.0,467.2 164.0,466.8 C166.7,466.6 172.0,465.0 172.0,465.0 C172.0,465.0 172.0,395.0 172.0,395.0 C172.0,395.0 49.0,395.0 49.0,395.0 C49.0,395.0 48.9,401.9 50.2,405.1Z" fill="#ffb400"/>
<path d="M128.5,456.5 C128.5,456.5 136.2,455.9 140.0,456.0 C143.3,456.1 146.7,456.6 150.0,457.0 C151.7,457.2 153.4,457.5 155.0,458.0 C155.9,458.3 156.5,459.4 157.5,459.5 C162.3,459.9 172.0,459.5 172.0,459.5 C172.0,459.5 172.0,466.7 172.0,466.7 C172.0,466.7 157.3,466.9 150.0,466.6 C148.0,466.5 145.9,466.3 144.0,465.6 C141.8,464.8 140.0,463.2 138.0,462.0 C134.8,460.1 128.5,456.5 128.5,456.5Z" fill="#ff6400"/>
<path d="M142.0,464.5 C142.0,464.5 147.3,463.7 150.0,463.5 C153.3,463.2 156.7,463.0 160.0,463.0 C160.5,463.0 161.0,463.5 161.5,463.5 C165.0,463.6 172.0,463.5 172.0,463.5 C172.0,463.5 172.0,466.5 172.0,466.5 C172.0,466.5 157.3,466.8 150.0,466.5 C148.0,466.4 146.0,466.0 144.0,465.5 C143.3,465.3 142.0,464.5 142.0,464.5Z" fill="#ff0000"/>

<path d="M8.4,393.5 C8.4,393.5 15.0,393.8 18.2,394.6 C20.9,395.3 23.4,397.0 26.0,398.0 C30.0,399.6 33.9,401.1 38.0,402.4 C41.6,403.6 45.3,404.4 49.0,405.4 C56.0,407.3 63.0,409.2 70.0,411.2 C76.7,413.1 83.4,414.8 90.0,417.0 C96.8,419.2 103.5,421.6 110.0,424.4 C114.8,426.5 119.4,429.1 124.0,431.7 C128.5,434.3 132.8,437.1 137.0,440.0 C139.8,441.9 142.4,444.1 145.0,446.3 C147.5,448.4 149.7,450.8 152.0,453.1 C154.0,455.2 156.0,457.3 158.0,459.4 C159.4,460.8 160.8,462.2 162.0,463.8 C162.8,464.8 163.8,467.2 163.8,467.2 C163.8,467.2 181.6,467.2 181.6,467.2 C181.6,467.2 183.0,466.5 183.0,466.5 C183.0,466.5 204.0,478.0 204.0,478.0 C204.0,478.0 210.8,478.2 210.8,478.2 C210.8,478.2 210.8,387.5 210.8,387.5 C210.8,387.5 8.4,387.5 8.4,387.5 C8.4,387.5 8.4,393.5 8.4,393.5Z" fill="#fff"/>
<rect x="213.0" y="374.00" width="14.4" height="19.51" fill="#ff0000"/>
<rect x="213.0" y="392.51" width="14.4" height="13.91" fill="#ff6400"/>
<rect x="213.0" y="405.42" width="14.4" height="13.91" fill="#ffb400"/>
<rect x="213.0" y="418.33" width="14.4" height="13.91" fill="#b4f500"/>
<rect x="213.0" y="431.24" width="14.4" height="13.91" fill="#00f000"/>
<rect x="213.0" y="444.15" width="14.4" height="13.91" fill="#00f000"/>
<rect x="213.0" y="457.06" width="14.4" height="13.91" fill="#00e63c"/>
<rect x="213.0" y="469.97" width="14.4" height="13.91" fill="#00eba0"/>
<rect x="213.0" y="482.88" width="14.4" height="13.91" fill="#00c8fa"/>
<rect x="213.0" y="495.79" width="14.4" height="13.91" fill="#005aff"/>
<rect x="213.0" y="508.70" width="14.4" height="19.80" fill="#0000fe"/>
<text class="lb" x="231.8" y="385.30">59.10</text>
<text class="lb" x="231.8" y="398.21">55.00</text>
<text class="lb" x="231.8" y="411.12">49.50</text>
<text class="lb" x="231.8" y="424.03">44.00</text>
<text class="lb" x="231.8" y="436.94">38.50</text>
<text class="lb" x="231.8" y="449.85">33.00</text>
<text class="lb" x="231.8" y="462.76">27.50</text>
<text class="lb" x="231.8" y="475.67">22.00</text>
<text class="lb" x="231.8" y="488.58">16.50</text>
<text class="lb" x="231.8" y="501.49">11.00</text>
<text class="lb" x="231.8" y="514.40">5.50</text>
<text class="lb" x="231.8" y="527.31">0.00</text>
<path d="M278.3,393.5 C278.3,393.5 284.9,393.8 288.0,394.6 C290.6,395.3 292.9,397.0 295.4,398.0 C299.4,399.6 303.4,401.1 307.4,402.4 C311.0,403.6 314.7,404.5 318.4,405.6 C320.6,406.3 322.8,407.2 325.0,407.8 C331.6,409.6 338.4,411.1 345.0,413.0 C351.7,414.9 358.4,416.7 365.0,419.0 C370.4,420.9 375.7,423.3 381.0,425.6 C384.7,427.2 388.4,428.8 392.0,430.6 C394.1,431.7 396.1,432.9 398.0,434.2 C399.4,435.1 400.7,436.3 402.0,437.3 C404.7,439.3 407.4,441.2 410.0,443.3 C412.7,445.5 415.4,447.7 418.0,450.0 C420.1,451.9 422.0,454.0 424.0,456.0 C426.0,458.1 428.1,460.1 430.0,462.3 C431.4,463.9 433.8,467.2 433.8,467.2 C433.8,467.2 452.2,467.2 452.2,467.2 C452.2,467.2 453.7,466.5 453.7,466.5 C453.7,466.5 474.0,477.6 474.0,477.6 C474.0,477.6 480.8,477.8 480.8,477.8 C480.8,477.8 480.8,528.5 480.8,528.5 C480.8,528.5 278.3,528.5 278.3,528.5 C278.3,528.5 278.3,393.5 278.3,393.5Z" fill="#0000ec"/>
<path d="M325.0,408.4 C324.5,405.6 325.0,400.0 325.0,400.0 C325.0,400.0 343.0,400.0 343.0,400.0 C343.0,400.0 341.6,409.3 343.0,413.6 C343.8,416.0 347.0,416.5 349.0,418.0 C351.0,419.6 353.3,421.1 355.0,423.0 C356.3,424.4 356.5,426.7 358.0,428.0 C359.7,429.5 362.2,429.6 364.0,431.0 C364.6,431.4 364.6,433.0 364.6,433.0 C364.6,433.0 363.7,434.2 363.0,434.2 C361.6,434.2 360.2,433.6 359.0,433.0 C356.2,431.6 353.6,429.7 351.0,428.0 C347.6,425.7 344.3,423.4 341.0,421.0 C338.3,419.0 335.7,416.9 333.0,415.0 C331.0,413.6 328.9,412.5 327.0,411.0 C326.2,410.3 325.2,409.5 325.0,408.4Z" fill="#1469f0"/>
<path d="M376.0,443.0 C376.0,443.0 377.3,442.1 378.0,442.0 C379.0,441.8 380.1,441.6 381.0,442.0 C382.8,442.7 384.5,443.8 386.0,445.0 C386.4,445.3 386.6,446.4 386.6,446.4 C386.6,446.4 385.6,447.3 385.0,447.6 C384.4,447.9 383.7,448.2 383.0,448.0 C381.2,447.5 379.5,446.7 378.0,445.6 C377.1,445.0 376.0,443.0 376.0,443.0Z" fill="#1469f0"/>
<path d="M396.0,438.5 C396.3,437.6 397.7,437.4 398.0,436.5 C398.7,434.4 399.0,430.0 399.0,430.0 C399.0,430.0 410.0,430.0 410.0,430.0 C410.0,430.0 410.0,441.5 410.0,441.5 C410.0,441.5 407.3,441.5 406.0,441.8 C405.6,441.9 405.4,442.5 405.0,442.5 C403.3,442.5 401.6,442.2 400.0,441.8 C398.8,441.5 397.5,441.3 396.5,440.5 C396.0,440.1 395.8,439.1 396.0,438.5Z" fill="#1469f0"/>
<path d="M400.5,438.6 C400.5,438.6 402.0,437.8 402.0,437.8 C402.0,437.8 405.0,440.6 405.0,440.6 C405.0,440.6 404.4,441.1 404.0,441.0 C403.1,440.8 402.2,440.5 401.5,440.0 C401.0,439.7 400.5,438.6 400.5,438.6Z" fill="#00d7ff"/>
<path d="M406.0,462.0 C406.0,462.0 413.3,462.3 417.0,462.5 C420.3,462.7 423.7,462.8 427.0,463.0 C428.5,463.1 430.0,463.4 431.5,463.5 C433.0,463.6 434.7,462.7 436.0,463.5 C437.3,464.3 438.0,467.6 438.0,467.6 C438.0,467.6 437.3,468.1 437.0,468.4 C436.3,469.2 436.0,470.5 435.0,471.0 C433.5,471.8 431.7,472.1 430.0,472.2 C427.3,472.4 424.6,472.4 422.0,472.0 C420.2,471.7 418.5,470.9 417.0,470.0 C414.8,468.7 413.0,467.0 411.0,465.5 C409.4,464.3 406.0,462.0 406.0,462.0Z" fill="#1469f0"/>
<path d="M410.5,464.5 C410.5,464.5 418.1,466.0 422.0,466.5 C425.3,466.9 428.7,466.7 432.0,467.2 C433.4,467.4 436.0,468.5 436.0,468.5 C436.0,468.5 434.9,470.3 434.0,470.5 C431.7,470.9 429.3,470.1 427.0,470.0 C424.7,469.9 422.3,470.4 420.0,470.0 C418.2,469.7 416.6,468.9 415.0,468.0 C413.4,467.0 410.5,464.5 410.5,464.5Z" fill="#00d7ff"/>
<path d="M419.5,469.2 C419.5,469.2 423.0,469.4 423.0,469.4 C423.0,469.4 422.5,471.0 422.5,471.0 C422.5,471.0 420.0,470.8 420.0,470.8 C420.0,470.8 419.5,469.2 419.5,469.2Z" fill="#00f050"/>
<path d="M431.5,468.5 C431.5,468.5 434.5,468.6 434.5,468.6 C434.5,468.6 434.0,470.5 434.0,470.5 C434.0,470.5 431.8,470.4 431.8,470.4 C431.8,470.4 431.5,468.5 431.5,468.5Z" fill="#00f050"/>
<circle cx="369" cy="438.6" r="0.9" fill="#0a5af0"/><ellipse cx="410.5" cy="445.8" rx="1.6" ry="0.8" fill="#0a46f0"/>
<path d="M278.3,393.5 C278.3,393.5 284.9,393.8 288.0,394.6 C290.6,395.3 292.9,397.0 295.4,398.0 C299.4,399.6 303.4,401.1 307.4,402.4 C311.0,403.6 314.7,404.5 318.4,405.6 C320.6,406.3 322.8,407.2 325.0,407.8 C331.6,409.6 338.4,411.1 345.0,413.0 C351.7,414.9 358.4,416.7 365.0,419.0 C370.4,420.9 375.7,423.3 381.0,425.6 C384.7,427.2 388.4,428.8 392.0,430.6 C394.1,431.7 396.1,432.9 398.0,434.2 C399.4,435.1 400.7,436.3 402.0,437.3 C404.7,439.3 407.4,441.2 410.0,443.3 C412.7,445.5 415.4,447.7 418.0,450.0 C420.1,451.9 422.0,454.0 424.0,456.0 C426.0,458.1 428.1,460.1 430.0,462.3 C431.4,463.9 433.8,467.2 433.8,467.2 C433.8,467.2 452.2,467.2 452.2,467.2 C452.2,467.2 453.7,466.5 453.7,466.5 C453.7,466.5 474.0,477.6 474.0,477.6 C474.0,477.6 480.8,477.8 480.8,477.8 C480.8,477.8 480.8,387.5 480.8,387.5 C480.8,387.5 278.3,387.5 278.3,387.5 C278.3,387.5 278.3,393.5 278.3,393.5Z" fill="#fff"/>
<rect x="483.4" y="386.50" width="14.6" height="21.13" fill="#ff0000"/>
<rect x="483.4" y="406.63" width="14.6" height="13.83" fill="#ff7300"/>
<rect x="483.4" y="419.46" width="14.6" height="13.83" fill="#ffe100"/>
<rect x="483.4" y="432.29" width="14.6" height="13.83" fill="#82f000"/>
<rect x="483.4" y="445.12" width="14.6" height="13.83" fill="#00f000"/>
<rect x="483.4" y="457.95" width="14.6" height="13.83" fill="#00f000"/>
<rect x="483.4" y="470.78" width="14.6" height="13.83" fill="#00f0aa"/>
<rect x="483.4" y="483.61" width="14.6" height="13.83" fill="#00d7ff"/>
<rect x="483.4" y="496.44" width="14.6" height="13.83" fill="#0064ff"/>
<rect x="483.4" y="509.27" width="14.6" height="19.63" fill="#0000fe"/>
<text class="lb" x="501.5" y="398.80">0.42</text>
<text class="lb" x="501.5" y="412.33">0.09</text>
<text class="lb" x="501.5" y="425.16">0.08</text>
<text class="lb" x="501.5" y="437.99">0.07</text>
<text class="lb" x="501.5" y="450.82">0.06</text>
<text class="lb" x="501.5" y="463.65">0.05</text>
<text class="lb" x="501.5" y="476.48">0.04</text>
<text class="lb" x="501.5" y="489.31">0.03</text>
<text class="lb" x="501.5" y="502.14">0.02</text>
<text class="lb" x="501.5" y="514.97">0.01</text>
<text class="lb" x="501.5" y="527.80">0.00</text>
<text class="tt" x="7.6" y="19.1">(a)</text>
<text class="tt" x="80.2" y="19.1">Horizontal<tspan dx="-0.4"> Displacement</tspan><tspan dx="-1.3" style="letter-spacing:0.95px"> (mm)</tspan></text>
<text class="tt" x="278" y="19.1">(b)</text>
<text class="tt" x="350" y="19.1">Horizontal<tspan dx="-0.4"> Displacement</tspan><tspan dx="-1.3" style="letter-spacing:0.95px"> (mm)</tspan></text>
<text class="tt" x="7.6" y="209.4">(c)</text>
<text class="tt" x="80.2" y="209.4">Horizontal<tspan dx="-0.4"> Displacement</tspan><tspan dx="-1.3" style="letter-spacing:0.95px"> (mm)</tspan></text>
<text class="tt" x="278" y="209.4">(d)</text>
<text class="tt" x="350" y="209.4">Horizontal<tspan dx="-0.4"> Displacement</tspan><tspan dx="-1.3" style="letter-spacing:0.95px"> (mm)</tspan></text>
<text class="tt" x="7.6" y="368.8">(e)</text>
<text class="tt" x="80.2" y="368.8">Horizontal<tspan dx="-0.4"> Displacement</tspan><tspan dx="-1.3" style="letter-spacing:0.95px"> (mm)</tspan></text>
<text class="tt" x="278" y="368.8">(f)</text>
<text class="tt" x="350" y="368.8">Horizontal<tspan dx="-0.4"> Displacement</tspan><tspan dx="-1.3" style="letter-spacing:0.95px"> (mm)</tspan></text>
</svg></body></html>
